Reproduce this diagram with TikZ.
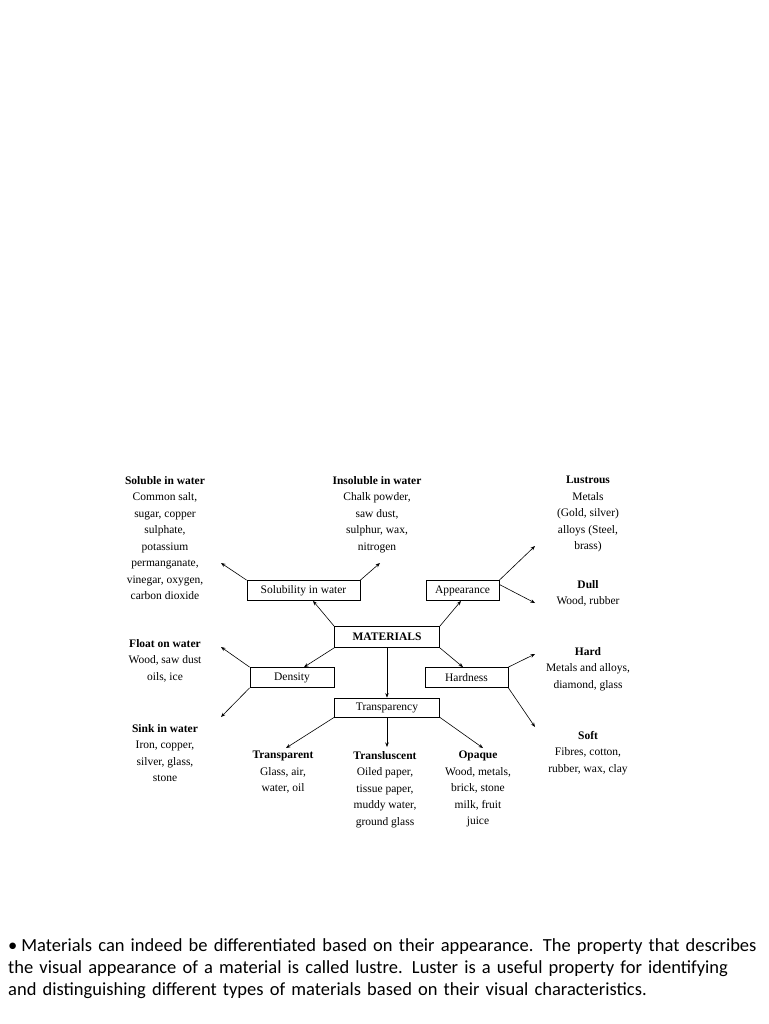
\documentclass[tikz,border=0pt]{standalone}
\usepackage{fontspec}
\setmainfont{Liberation Serif}
\newfontfamily\bodyfont{Carlito}
\usetikzlibrary{arrows.meta}
\begin{document}
\begin{tikzpicture}[x=1pt,y=-1pt,
  box/.style={draw,line width=0.8pt,minimum height=20pt,inner sep=1pt,font=\fontsize{11.5}{14}\selectfont},
  lbl/.style={align=center,anchor=north,inner sep=0pt,font=\fontsize{11.5}{16.5}\selectfont},
  arr/.style={-{Stealth[length=4.5pt,width=3.5pt]},line width=0.6pt}]
\useasboundingbox (0,0) rectangle (768,1024);
% boxes
\node[box,minimum width=113pt] (sol) at (303.5,590.5) {Solubility in water};
\node[box,minimum width=73pt] (app) at (462.5,590.5) {Appearance};
\node[box,minimum width=105pt,minimum height=21pt,font=\fontsize{11.5}{14}\selectfont\bfseries] (mat) at (387,637) {MATERIALS};
\node[box,minimum width=84pt] (den) at (292,677.5) {Density};
\node[box,minimum width=83pt] (har) at (466.5,677.5) {Hardness};
\node[box,minimum width=105pt,minimum height=19pt] (tra) at (387,707.5) {Transparency};
% labels
\node[lbl] (lsol) at (165,476) {\textbf{Soluble in water}\\Common salt,\\sugar, copper\\sulphate,\\potassium\\permanganate,\\vinegar, oxygen,\\carbon dioxide};
\node[lbl] (lins) at (377,476) {\textbf{Insoluble in water}\\Chalk powder,\\saw dust,\\sulphur, wax,\\nitrogen};
\node[lbl] (llus) at (588,476) {\textbf{Lustrous}\\Metals\\(Gold, silver)\\alloys (Steel,\\brass)};
\node[lbl] (ldul) at (588,580) {\textbf{Dull}\\Wood, rubber};
\node[lbl] (lflo) at (165,639) {\textbf{Float on water}\\Wood, saw dust\\oils, ice};
\node[lbl] (lsin) at (165,724) {\textbf{Sink in water}\\Iron, copper,\\silver, glass,\\stone};
\node[lbl] (lhar) at (588,647) {\textbf{Hard}\\Metals and alloys,\\diamond, glass};
\node[lbl] (lsof) at (588,731) {\textbf{Soft}\\Fibres, cotton,\\rubber, wax, clay};
\node[lbl] (ltp) at (283,751) {\textbf{Transparent}\\Glass, air,\\water, oil};
\node[lbl] (ltl) at (385,751) {\textbf{Transluscent}\\Oiled paper,\\tissue paper,\\muddy water,\\ground glass};
\node[lbl] (lop) at (478,751) {\textbf{Opaque}\\Wood, metals,\\brick, stone\\milk, fruit\\juice};
% arrow end coordinates
\coordinate (e1) at (221,563); \coordinate (e2) at (380,563);
\coordinate (e3) at (535,546); \coordinate (e4) at (535,603);
\coordinate (e5) at (221,647); \coordinate (e6) at (221,717);
\coordinate (e7) at (535,654); \coordinate (e8) at (535,727);
\coordinate (e9) at (286,748); \coordinate (e10) at (387,747); \coordinate (e11) at (483,748);
\coordinate (s1) at (313,0); \coordinate (s2) at (461,0);
\coordinate (s3) at (304,0); \coordinate (s4) at (463,0);
\draw[arr] (mat.north west) -- (s1 |- sol.south);
\draw[arr] (mat.north east) -- (s2 |- app.south);
\draw[arr] (mat.south west) -- (s3 |- den.north);
\draw[arr] (mat.south east) -- (s4 |- har.north);
\draw[arr] (mat.south) -- (tra.north);
\draw[arr] (sol.north west) -- (e1);
\draw[arr] (sol.north east) -- (e2);
\draw[arr] (app.north east) -- (e3);
\draw[arr] ([yshift=6pt]app.east) -- (e4);
\draw[arr] (den.north west) -- (e5);
\draw[arr] (den.south west) -- (e6);
\draw[arr] (har.north east) -- (e7);
\draw[arr] (har.south east) -- (e8);
\draw[arr] (tra.south west) -- (e9);
\draw[arr] (tra.south) -- (e10);
\draw[arr] (tra.south east) -- (e11);
% bullet text
\node[anchor=north west,inner sep=0pt,text width=750pt,align=left,font=\bodyfont\fontsize{18.5}{22}\selectfont] (txt) at (8,938)
{\hangindent=14pt\hangafter=1 \textbullet\hspace{4pt}Materials can indeed be differentiated based on their appearance. The property that describes the visual appearance of a material is called lustre. Luster is a useful property for identifying and distinguishing different types of materials based on their visual characteristics.};
\end{tikzpicture}
\end{document}
